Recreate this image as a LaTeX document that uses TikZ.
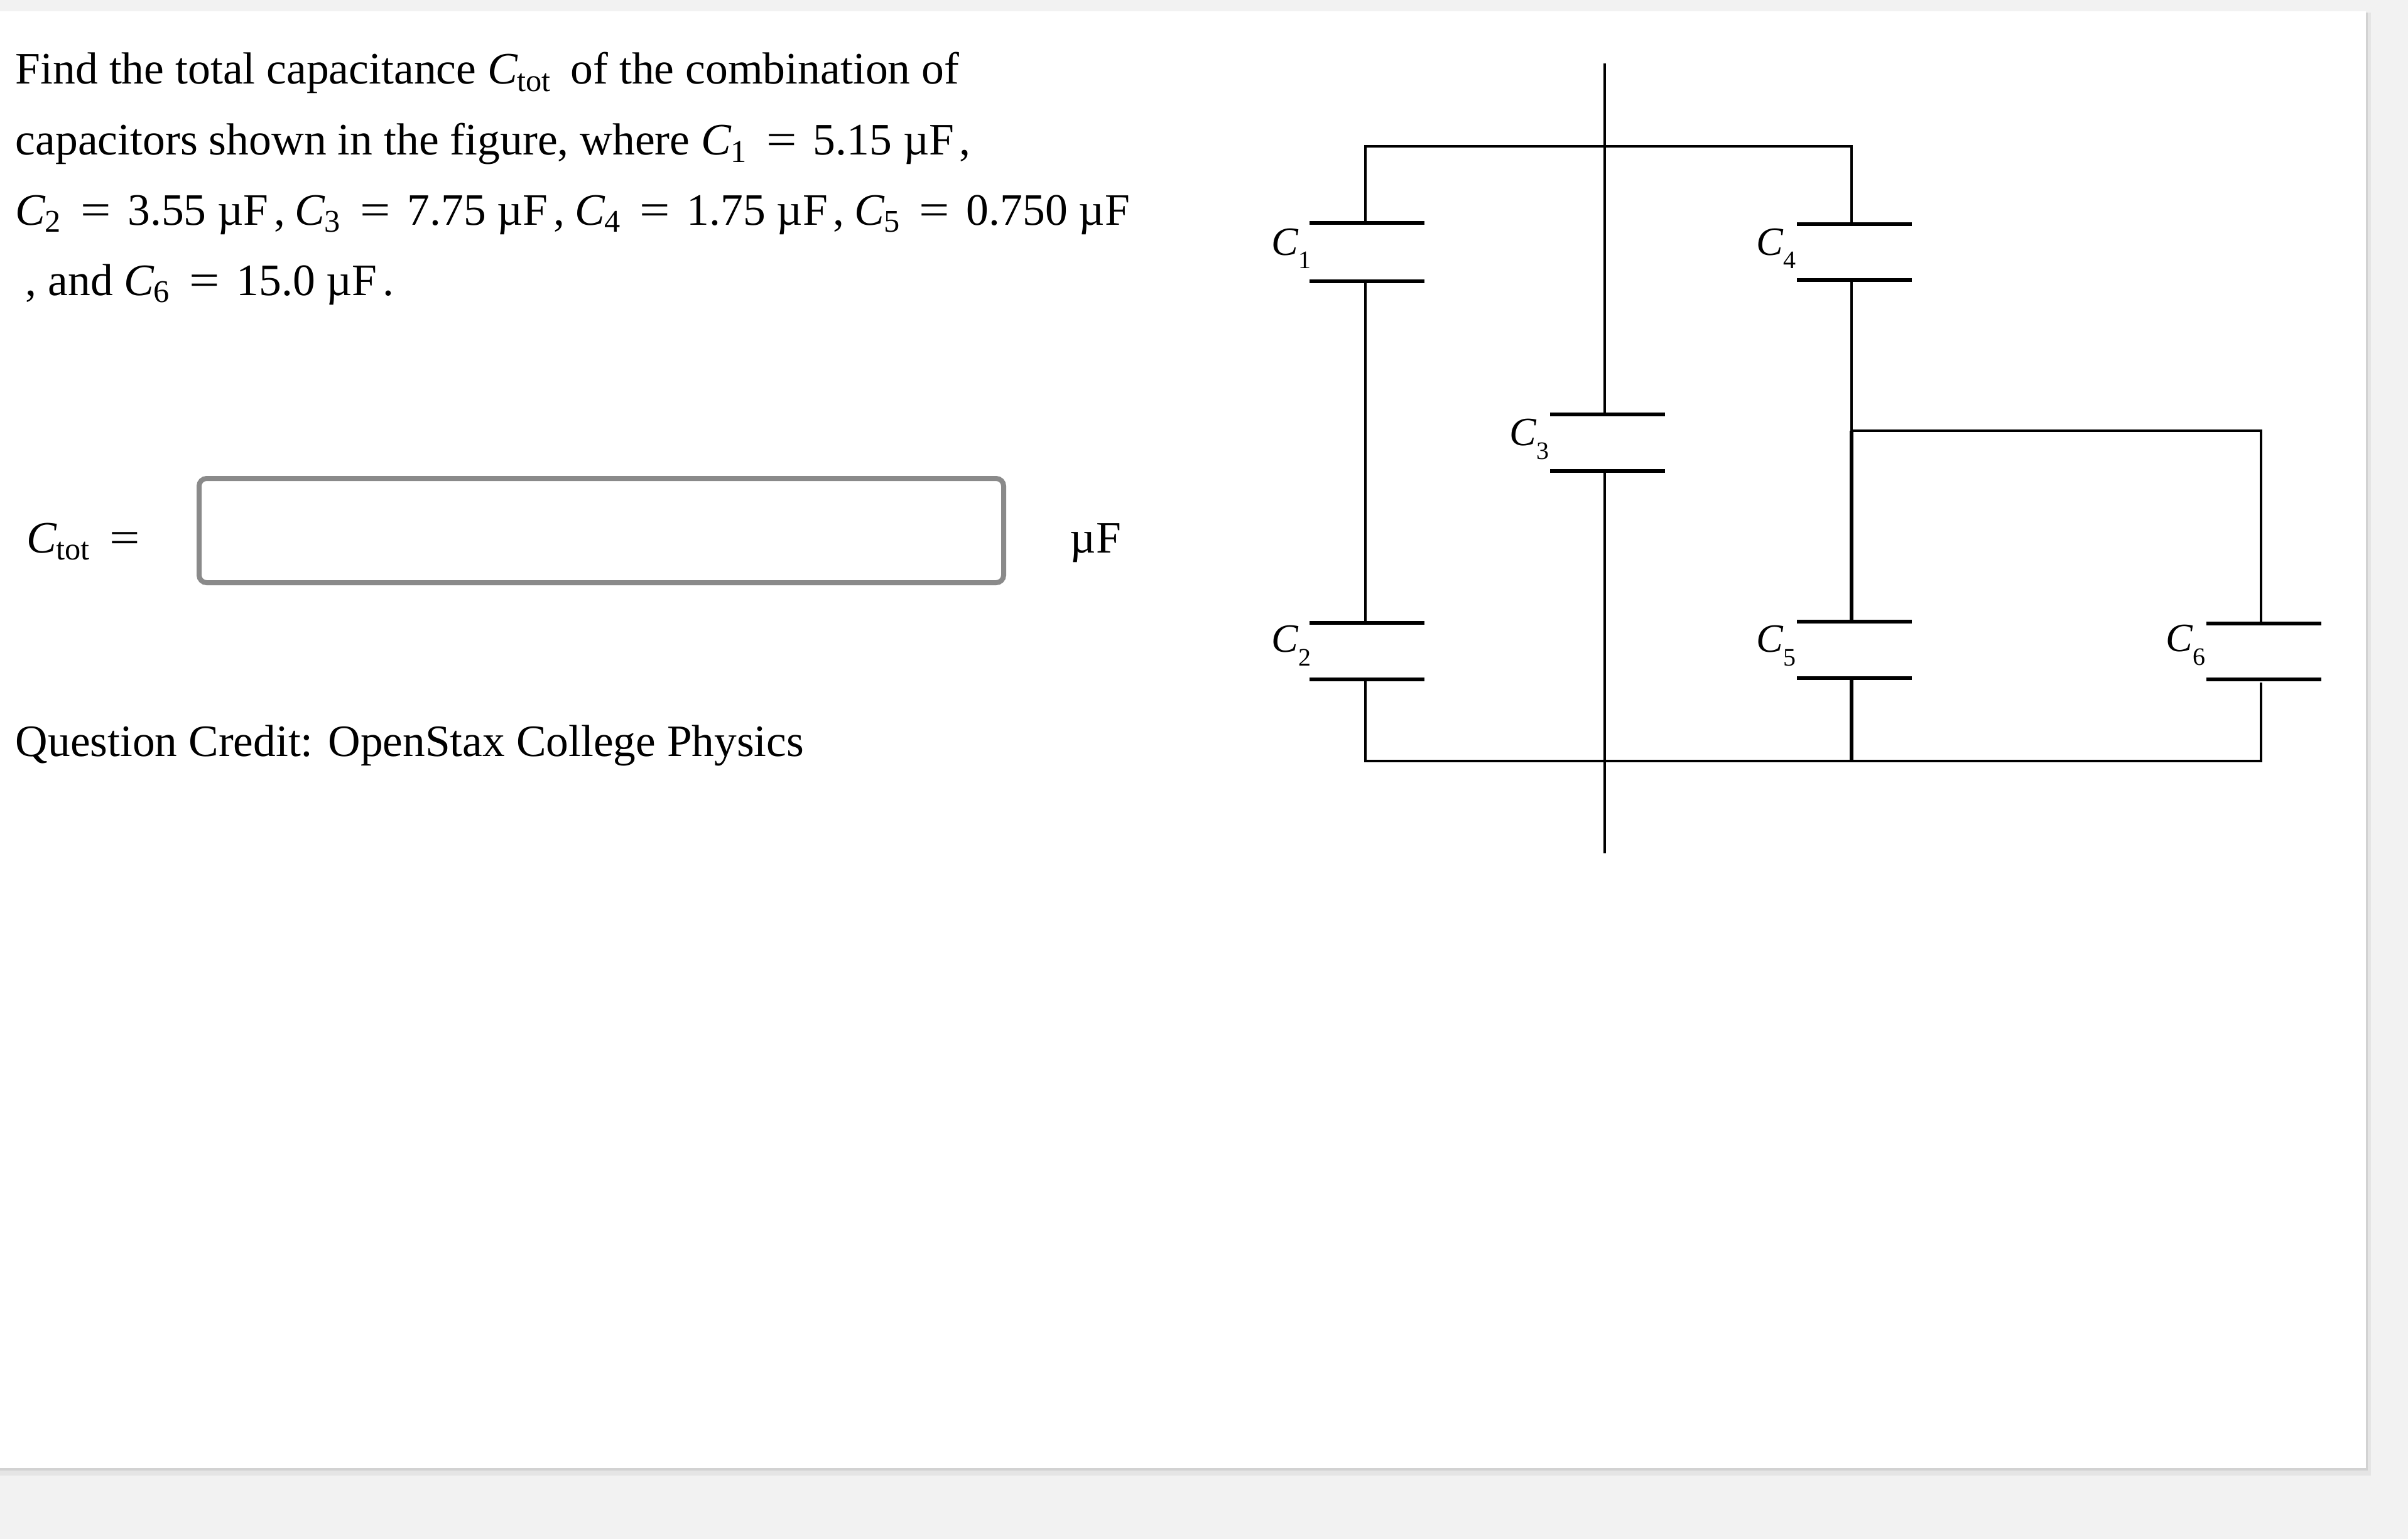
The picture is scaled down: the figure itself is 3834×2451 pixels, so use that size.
\documentclass[tikz,border=0pt]{standalone}
\usepackage{fontspec}
\setmainfont{Liberation Serif}
\def\capC#1{\textit{C}\kern-.02em\raisebox{-.16em}{\fontsize{12.6pt}{14pt}\selectfont #1}}
\def\eqsign{\hspace{.44em}\scalebox{1.2}[1]{=}\hspace{.37em}}
\def\tight{\hspace{.12em}}
\def\circC#1{\textit{C}\kern-.01em\raisebox{-5.5pt}{\fontsize{10pt}{12pt}\selectfont #1}}
\definecolor{pagegrey}{HTML}{F2F2F2}
\definecolor{boxgrey}{HTML}{8A8A8A}
\definecolor{shadegrey}{HTML}{D2D2D2}

\begin{document}
\begin{tikzpicture}[x=0.25pt,y=0.25pt,yscale=-1,xscale=1,
		wire/.style={line width=1.1pt,line join=miter},
		heavywire/.style={line width=1.3pt},
		plate/.style={line width=1.4pt},
		prose/.style={anchor=base west,inner sep=0pt,font=\fontsize{17.9pt}{21pt}\selectfont},
		circlabel/.style={anchor=base west,inner sep=0pt,font=\fontsize{16pt}{19pt}\selectfont}]
		\useasboundingbox (0,0) rectangle (3834,2451);
		\fill [pagegrey] (0,0) rectangle (3834,2451);
		\fill [shadegrey!40!pagegrey] (0,20) rectangle (3775,2350);
		\fill [shadegrey] (0,20) rectangle (3770,2342);
		\fill [white] (0,18) rectangle (3767,2338);
		% question text
		\node [prose] (lineone) at (24,134) {Find the total capacitance \capC{tot}\hspace{.2em} of the combination of};
		\node [prose] (linetwo) at (24,247) {capacitors shown in the figure, where \capC{1}\eqsign 5.15 µF\tight,};
		\node [prose] (linethree) at (24,358) {\capC{2}\eqsign 3.55 µF\tight,\tight\hspace{.1em}\capC{3}\eqsign 7.75 µF\tight,\tight\hspace{.1em}\capC{4}\eqsign 1.75 µF\tight,\tight\hspace{.1em}\capC{5}\eqsign 0.750 µF};
		\node [prose] (linefour) at (40,470) {, and \capC{6}\eqsign 15.0 µF\tight.};
		\node [prose] (ctot) at (42,880) {\capC{tot}\eqsign};
		\draw [boxgrey,line width=2pt,rounded corners=3pt,fill=white] (317,762) rectangle (1598,928);
		\node [prose] (unit) at (1703,880) {µF};
		\node [prose,font=\fontsize{17.85pt}{21pt}\selectfont] (credit) at (24,1204) {Question Credit: OpenStax College Physics};
		% wire ends
		\coordinate (busin) at (2555,101);
		\coordinate (busout) at (2555,1359);
		\coordinate (topleft) at (2174,233);
		\coordinate (topright) at (2948,233);
		\coordinate (botleft) at (2174,1212);
		\coordinate (botright) at (3600,1212);
		\coordinate (branch) at (2948,686);
		\coordinate (branchright) at (3600,686);
		\coordinate (midbot) at (2948,1212);
		\coordinate (Cone) at (2174,355);
		\coordinate (Conelow) at (2174,448);
		\coordinate (Ctwo) at (2174,992);
		\coordinate (Ctwolow) at (2174,1082);
		\coordinate (Cthree) at (2555,660);
		\coordinate (Cthreelow) at (2555,750);
		\coordinate (Cfour) at (2948,357);
		\coordinate (Cfourlow) at (2948,446);
		\coordinate (Cfive) at (2948,990);
		\coordinate (Cfivelow) at (2948,1080);
		\coordinate (Csix) at (3600,993);
		\coordinate (Csixlow) at (3600,1087);
		% wires
		\draw [wire] (Cone) -- (topleft) -- (topright) -- (Cfour);
		\draw [wire] (Conelow) -- (Ctwo);
		\draw [wire] (Ctwolow) -- (botleft) -- (botright) -- (Csixlow);
		\draw [wire] (busin) -- (Cthree);
		\draw [wire] (Cthreelow) -- (busout);
		\draw [wire] (Cfourlow) -- (branch);
		\draw [heavywire] (branch) -- (Cfive);
		\draw [heavywire] (Cfivelow) -- (midbot);
		\draw [wire] (branch) -- (branchright) -- (Csix);
		% plates
		\draw [plate] (2085,355) -- (2268,355);
		\draw [plate] (2085,448) -- (2268,448);
		\draw [plate] (2085,992) -- (2268,992);
		\draw [plate] (2085,1082) -- (2268,1082);
		\draw [plate] (2468,660) -- (2651,660);
		\draw [plate] (2468,750) -- (2651,750);
		\draw [plate] (2861,357) -- (3044,357);
		\draw [plate] (2861,446) -- (3044,446);
		\draw [plate] (2861,990) -- (3044,990);
		\draw [plate] (2861,1080) -- (3044,1080);
		\draw [plate] (3513,993) -- (3696,993);
		\draw [plate] (3513,1082) -- (3696,1082);
		% labels
		\node [circlabel] (labelone) at (2024,406) {\circC{1}};
		\node [circlabel] (labeltwo) at (2024,1038) {\circC{2}};
		\node [circlabel] (labelthree) at (2403,709) {\circC{3}};
		\node [circlabel] (labelfour) at (2796,406) {\circC{4}};
		\node [circlabel] (labelfive) at (2796,1038) {\circC{5}};
		\node [circlabel] (labelsix) at (3448,1037) {\circC{6}};
	\end{tikzpicture}
\end{document}
